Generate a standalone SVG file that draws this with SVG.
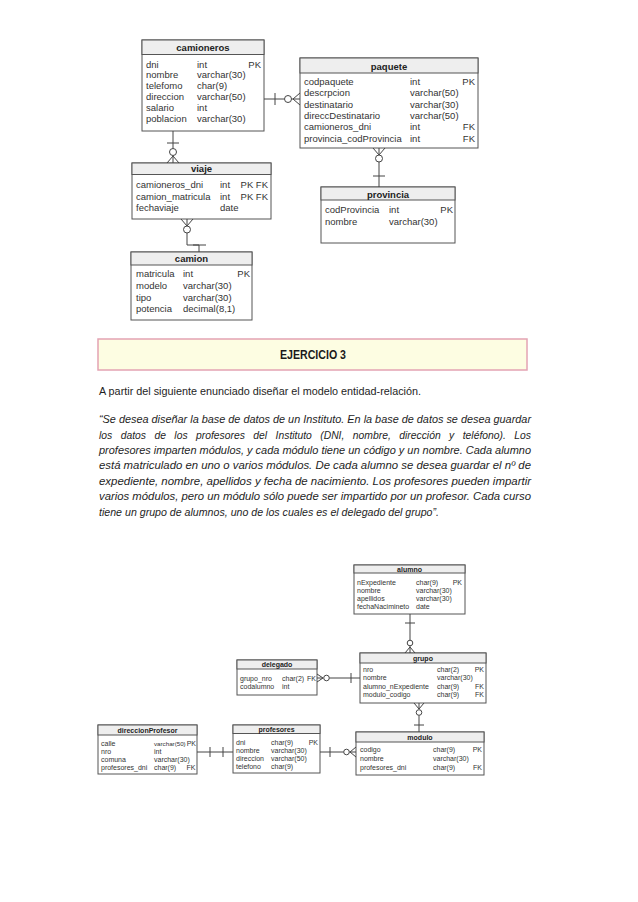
<svg xmlns="http://www.w3.org/2000/svg" width="638" height="902" viewBox="0 0 638 902">
<style>
.box{fill:#fff;stroke:#555;stroke-width:1}
.hdr{fill:#eeeeee;stroke:#555;stroke-width:1}
.t{font-family:"Liberation Sans",Arial,sans-serif;font-size:9.5px;fill:#333}
.s{font-size:7px}
.b{font-weight:bold;text-anchor:middle;fill:#222}
.e{text-anchor:end}
.c{stroke:#444;stroke-width:1;fill:none}
.o{stroke:#444;stroke-width:1;fill:#fff}
.p{font-family:"Liberation Sans Narrow","Liberation Sans",Arial,sans-serif;font-size:11.5px;fill:#1e1e1e}
.i{font-style:italic}
</style>
<rect width="638" height="902" fill="#fff"/>

<!-- ===== Top diagram ===== -->
<g id="camioneros">
<rect class="box" x="142" y="40" width="122" height="91"/>
<rect class="hdr" x="142" y="40" width="122" height="14.5"/>
<text class="t b" x="203" y="50.5">camioneros</text>
<text class="t" x="146" y="67.5">dni</text><text class="t" x="197" y="67.5">int</text><text class="t e" x="261" y="67.5">PK</text>
<text class="t" x="146" y="78.3">nombre</text><text class="t" x="197" y="78.3">varchar(30)</text>
<text class="t" x="146" y="89.1">telefomo</text><text class="t" x="197" y="89.1">char(9)</text>
<text class="t" x="146" y="99.9">direccion</text><text class="t" x="197" y="99.9">varchar(50)</text>
<text class="t" x="146" y="110.7">salario</text><text class="t" x="197" y="110.7">int</text>
<text class="t" x="146" y="121.5">poblacion</text><text class="t" x="197" y="121.5">varchar(30)</text>
</g>

<g id="paquete">
<rect class="box" x="300" y="58" width="178" height="90"/>
<rect class="hdr" x="300" y="58" width="178" height="15"/>
<text class="t b" x="389" y="69.5">paquete</text>
<text class="t" x="304" y="85">codpaquete</text><text class="t" x="410" y="85">int</text><text class="t e" x="475" y="85">PK</text>
<text class="t" x="304" y="96.4">descrpcion</text><text class="t" x="410" y="96.4">varchar(50)</text>
<text class="t" x="304" y="107.7">destinatario</text><text class="t" x="410" y="107.7">varchar(30)</text>
<text class="t" x="304" y="119">direccDestinatario</text><text class="t" x="410" y="119">varchar(50)</text>
<text class="t" x="304" y="130.3">camioneros_dni</text><text class="t" x="410" y="130.3">int</text><text class="t e" x="475" y="130.3">FK</text>
<text class="t" x="304" y="141.6">provincia_codProvincia</text><text class="t" x="410" y="141.6">int</text><text class="t e" x="475" y="141.6">FK</text>
</g>

<g id="viaje">
<rect class="box" x="132" y="163" width="139" height="56"/>
<rect class="hdr" x="132" y="163" width="139" height="11.5"/>
<text class="t b" x="201.5" y="172.3">viaje</text>
<text class="t" x="136" y="188.3">camioneros_dni</text><text class="t" x="220" y="188.3">int</text><text class="t e" x="268" y="188.3">PK FK</text>
<text class="t" x="136" y="199.6">camion_matricula</text><text class="t" x="220" y="199.6">int</text><text class="t e" x="268" y="199.6">PK FK</text>
<text class="t" x="136" y="211">fechaviaje</text><text class="t" x="220" y="211">date</text>
</g>

<g id="camion">
<rect class="box" x="131" y="252" width="121" height="68"/>
<rect class="hdr" x="131" y="252" width="121" height="13"/>
<text class="t b" x="191.5" y="262.3">camion</text>
<text class="t" x="136" y="277.3">matricula</text><text class="t" x="183" y="277.3">int</text><text class="t e" x="250" y="277.3">PK</text>
<text class="t" x="136" y="289">modelo</text><text class="t" x="183" y="289">varchar(30)</text>
<text class="t" x="136" y="300.7">tipo</text><text class="t" x="183" y="300.7">varchar(30)</text>
<text class="t" x="136" y="312.4">potencia</text><text class="t" x="183" y="312.4">decimal(8,1)</text>
</g>

<g id="provincia">
<rect class="box" x="321" y="187" width="134" height="56"/>
<rect class="hdr" x="321" y="187" width="134" height="13"/>
<text class="t b" x="388" y="197.6">provincia</text>
<text class="t" x="325" y="213.3">codProvincia</text><text class="t" x="389" y="213.3">int</text><text class="t e" x="453" y="213.3">PK</text>
<text class="t" x="325" y="225.3">nombre</text><text class="t" x="389" y="225.3">varchar(30)</text>
</g>

<!-- ===== Exercise banner and statement ===== -->
<g id="ejercicio3">
<rect x="98" y="339" width="429" height="31" fill="#fdfde2" stroke="#e3a3b3" stroke-width="1.5"/>
<text x="313" y="359" text-anchor="middle" font-family="'Liberation Sans Narrow','Liberation Sans',Arial,sans-serif" font-size="12.5" font-weight="bold" fill="#1a1a1a" textLength="66" lengthAdjust="spacingAndGlyphs">EJERCICIO 3</text>
</g>

<g id="enunciado">
<text class="p" x="99" y="395" textLength="322" lengthAdjust="spacingAndGlyphs">A partir del siguiente enunciado diseñar el modelo entidad-relación.</text>
<text class="p i" x="99" y="423" textLength="432" lengthAdjust="spacingAndGlyphs">“Se desea diseñar la base de datos de un Instituto. En la base de datos se desea guardar</text>
<text class="p i" x="99" y="438.5" textLength="13.2" lengthAdjust="spacingAndGlyphs">los</text>
<text class="p i" x="120.65" y="438.5" textLength="25.3" lengthAdjust="spacingAndGlyphs">datos</text>
<text class="p i" x="154.4" y="438.5" textLength="11.5" lengthAdjust="spacingAndGlyphs">de</text>
<text class="p i" x="174.35" y="438.5" textLength="13.2" lengthAdjust="spacingAndGlyphs">los</text>
<text class="p i" x="196" y="438.5" textLength="48.9" lengthAdjust="spacingAndGlyphs">profesores</text>
<text class="p i" x="253.35" y="438.5" textLength="13.8" lengthAdjust="spacingAndGlyphs">del</text>
<text class="p i" x="275.6" y="438.5" textLength="36.2" lengthAdjust="spacingAndGlyphs">Instituto</text>
<text class="p i" x="320.25" y="438.5" textLength="24.1" lengthAdjust="spacingAndGlyphs">(DNI,</text>
<text class="p i" x="352.8" y="438.5" textLength="38" lengthAdjust="spacingAndGlyphs">nombre,</text>
<text class="p i" x="399.25" y="438.5" textLength="41.4" lengthAdjust="spacingAndGlyphs">dirección</text>
<text class="p i" x="449.1" y="438.5" textLength="5.2" lengthAdjust="spacingAndGlyphs">y</text>
<text class="p i" x="462.75" y="438.5" textLength="43.1" lengthAdjust="spacingAndGlyphs">teléfono).</text>
<text class="p i" x="514.3" y="438.5" textLength="16.7" lengthAdjust="spacingAndGlyphs">Los</text>
<text class="p i" x="99" y="454" textLength="432" lengthAdjust="spacingAndGlyphs">profesores imparten módulos, y cada módulo tiene un código y un nombre. Cada alumno</text>
<text class="p i" x="99" y="469.4" textLength="432" lengthAdjust="spacingAndGlyphs">está matriculado en uno o varios módulos. De cada alumno se desea guardar el nº de</text>
<text class="p i" x="99" y="484.8" textLength="432" lengthAdjust="spacingAndGlyphs">expediente, nombre, apellidos y fecha de nacimiento. Los profesores pueden impartir</text>
<text class="p i" x="99" y="500.3" textLength="432" lengthAdjust="spacingAndGlyphs">varios módulos, pero un módulo sólo puede ser impartido por un profesor. Cada curso</text>
<text class="p i" x="99" y="515.7" textLength="340" lengthAdjust="spacingAndGlyphs">tiene un grupo de alumnos, uno de los cuales es el delegado del grupo”.</text>
</g>

<!-- ===== Bottom diagram ===== -->
<g id="alumno">
<rect class="box" x="354" y="565" width="111" height="49"/>
<rect class="hdr" x="354" y="565" width="111" height="8"/>
<text class="t s b" x="409.5" y="571.6">alumno</text>
<text class="t s" x="357" y="584.5">nExpediente</text><text class="t s" x="416" y="584.5">char(9)</text><text class="t s e" x="462" y="584.5">PK</text>
<text class="t s" x="357" y="592.6">nombre</text><text class="t s" x="416" y="592.6">varchar(30)</text>
<text class="t s" x="357" y="600.7">apellidos</text><text class="t s" x="416" y="600.7">varchar(30)</text>
<text class="t s" x="357" y="608.8">fechaNacimineto</text><text class="t s" x="416" y="608.8">date</text>
</g>

<g id="grupo">
<rect class="box" x="360" y="653" width="126" height="50"/>
<rect class="hdr" x="360" y="653" width="126" height="10"/>
<text class="t s b" x="423" y="660.5">grupo</text>
<text class="t s" x="363" y="671.5">nro</text><text class="t s" x="437" y="671.5">char(2)</text><text class="t s e" x="484" y="671.5">PK</text>
<text class="t s" x="363" y="680">nombre</text><text class="t s" x="437" y="680">varchar(30)</text>
<text class="t s" x="363" y="688.5">alumno_nExpediente</text><text class="t s" x="437" y="688.5">char(9)</text><text class="t s e" x="484" y="688.5">FK</text>
<text class="t s" x="363" y="697">modulo_codigo</text><text class="t s" x="437" y="697">char(9)</text><text class="t s e" x="484" y="697">FK</text>
</g>

<g id="delegado">
<rect class="box" x="237" y="660" width="80" height="35"/>
<rect class="hdr" x="237" y="660" width="80" height="9"/>
<text class="t s b" x="277" y="667">delegado</text>
<text class="t s" x="240" y="680.5">grupo_nro</text><text class="t s" x="282" y="680.5">char(2)</text><text class="t s e" x="316" y="680.5">FK</text>
<text class="t s" x="240" y="688.5">codalumno</text><text class="t s" x="282" y="688.5">int</text>
</g>

<g id="modulo">
<rect class="box" x="356" y="732" width="128" height="43"/>
<rect class="hdr" x="356" y="732" width="128" height="10"/>
<text class="t s b" x="420" y="739.5">modulo</text>
<text class="t s" x="360" y="752.3">codigo</text><text class="t s" x="433" y="752.3">char(9)</text><text class="t s e" x="482" y="752.3">PK</text>
<text class="t s" x="360" y="760.5">nombre</text><text class="t s" x="433" y="760.5">varchar(30)</text>
<text class="t s" x="360" y="769.5">profesores_dni</text><text class="t s" x="433" y="769.5">char(9)</text><text class="t s e" x="482" y="769.5">FK</text>
</g>

<g id="profesores">
<rect class="box" x="233" y="725" width="87" height="48"/>
<rect class="hdr" x="233" y="725" width="87" height="8.5"/>
<text class="t s b" x="276.5" y="731.6">profesores</text>
<text class="t s" x="236" y="744.5">dni</text><text class="t s" x="271" y="744.5">char(9)</text><text class="t s e" x="318" y="744.5">PK</text>
<text class="t s" x="236" y="752.8">nombre</text><text class="t s" x="271" y="752.8">varchar(30)</text>
<text class="t s" x="236" y="761.1">direccion</text><text class="t s" x="271" y="761.1">varchar(50)</text>
<text class="t s" x="236" y="769.4">telefono</text><text class="t s" x="271" y="769.4">char(9)</text>
</g>

<g id="direccionProfesor">
<rect class="box" x="98" y="725" width="99" height="49"/>
<rect class="hdr" x="98" y="725" width="99" height="10"/>
<text class="t b" x="147.5" y="732.5" style="font-size:7px">direccionProfesor</text>
<text class="t" x="101" y="745.8" style="font-size:7px">calle</text><text class="t" x="154" y="745.8" style="font-size:6.2px">varchar(50)</text><text class="t e" x="196" y="745.8" style="font-size:7px">PK</text>
<text class="t s" x="101" y="753.8">nro</text><text class="t s" x="154" y="753.8">int</text>
<text class="t s" x="101" y="761.8">comuna</text><text class="t s" x="154" y="761.8">varchar(30)</text>
<text class="t s" x="101" y="769.8">profesores_dni</text><text class="t s" x="154" y="769.8">char(9)</text><text class="t s e" x="195.5" y="769.8">FK</text>
</g>

<!-- ===== Connectors ===== -->
<g id="connectors">
<!-- camioneros - paquete -->
<path class="c" d="M264,99 H284.5 M291.5,99 H300 M275,93 V105 M293,99 L300,93 M293,99 L300,105"/>
<circle class="o" cx="288" cy="99" r="3.5"/>
<!-- camioneros - viaje -->
<path class="c" d="M173,131 V148.5 M173,155.5 V163 M167,143 H179 M173,156 L167,163 M173,156 L179,163"/>
<circle class="o" cx="173" cy="152" r="3.5"/>
<!-- viaje - camion -->
<path class="c" d="M187,219 V226 M181,219 L187,226 L193,219 M187,233 V245 H199 V252 M193,245 H206"/>
<circle class="o" cx="187" cy="229.5" r="3.5"/>
<!-- paquete - provincia -->
<path class="c" d="M379,148 V155 M373,148 L379,155 L385,148 M379,162 V187 M373,176 H385"/>
<circle class="o" cx="379" cy="158.5" r="3.5"/>

<!-- alumno - grupo -->
<path class="c" d="M410,614 V640.2 M410,645.8 V653 M405,623 H415 M410,647 L405,653 M410,647 L415,653"/>
<circle class="o" cx="410" cy="643" r="2.8"/>
<!-- delegado - grupo -->
<path class="c" d="M317,678 H323 M317,674 L323,678 L317,682 M329.3,678 H360 M351,673 V683"/>
<circle class="o" cx="326.5" cy="678" r="2.8"/>
<!-- grupo - modulo -->
<path class="c" d="M419,703 V709 M414,703 L419,709 L424,703 M419,715.3 V732 M414,725 H424"/>
<circle class="o" cx="419" cy="712.5" r="2.8"/>
<!-- profesores - modulo -->
<path class="c" d="M320,752 H343.7 M349.3,752 H356 M330,747 V757 M350,752 L356,747 M350,752 L356,757"/>
<circle class="o" cx="346.5" cy="752" r="2.8"/>
<!-- direccionProfesor - profesores -->
<path class="c" d="M197,752 H233 M210,747 V757 M223,747 V757"/>
</g>
</svg>
